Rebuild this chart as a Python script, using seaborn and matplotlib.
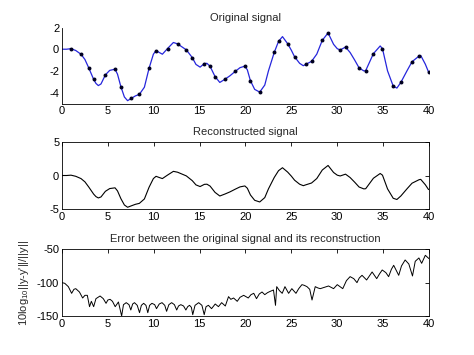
import matplotlib
matplotlib.use("Agg")
import matplotlib.pyplot as plt
import seaborn as sns
import numpy as np

# ---- data ----
signal_x = [0.0, 0.5, 0.98, 1.5, 2.07, 2.5, 2.9, 3.45, 3.7, 3.96, 4.25, 4.73, 5.2, 5.78, 6.05,
            6.42, 6.8, 7.15, 7.55, 8.0, 8.43, 8.98, 9.49, 9.96, 10.25, 10.6, 10.94, 11.5, 12.14,
            12.6, 13.55, 14.2, 14.6, 15.05, 15.52, 15.8, 16.14, 16.68, 17.2, 17.77, 18.3, 18.9,
            19.4, 19.93, 20.2, 20.54, 21.0, 21.55, 22.1, 22.5, 23.13, 23.6, 24.03, 24.6, 25.0,
            25.35, 25.9, 26.3, 26.6, 27.2, 27.77, 28.37, 29.0, 29.6, 30.0, 30.32, 30.9, 31.4,
            31.9, 32.38, 32.9, 33.1, 33.3, 33.94, 34.68, 34.93, 35.48, 36.1, 36.5, 36.93, 37.6,
            38.15, 38.93, 39.1, 39.6, 39.95]
signal_y = [0.0, 0.0, 0.05, -0.12, -0.46, -0.95, -1.69, -2.78, -3.15, -3.35, -3.2, -2.36, -1.95,
            -1.84, -2.3, -3.46, -4.4, -4.74, -4.53, -4.3, -4.16, -3.5, -1.75, -0.46, -0.12, -0.3,
            -0.46, 0.06, 0.62, 0.49, -0.06, -0.77, -1.4, -1.65, -1.32, -1.3, -1.58, -2.52, -3.06,
            -2.76, -2.45, -2.03, -1.7, -1.56, -1.9, -2.91, -3.7, -3.95, -3.3, -2.0, -0.3, 0.72,
            1.16, 0.5, -0.1, -0.7, -1.3, -1.52, -1.38, -1.12, -0.45, 0.82, 1.5, 0.45, 0.05, -0.07,
            0.2, -0.3, -1.0, -1.72, -2.0, -1.97, -1.6, -0.41, 0.3, 0.05, -1.99, -3.4, -3.58,
            -3.06, -1.99, -1.15, -0.62, -0.58, -1.38, -2.1]

sample_x = [0.98, 2.07, 2.9, 3.45, 4.73, 5.78, 6.42, 7.55, 8.43, 9.49, 10.25, 11.5, 12.6, 13.55,
            14.2, 15.52, 16.14, 16.68, 17.77, 18.9, 19.93, 20.54, 21.55, 23.13, 23.6, 24.6, 25.35,
            26.6, 27.2, 28.37, 29.0, 30.32, 30.9, 32.38, 33.1, 33.94, 34.93, 36.1, 36.93, 38.15,
            38.93, 39.95]
sample_y = [0.05, -0.46, -1.69, -2.78, -2.36, -1.84, -3.46, -4.53, -4.16, -1.75, -0.12, 0.06,
            0.49, -0.06, -0.77, -1.32, -1.58, -2.52, -2.76, -2.03, -1.56, -2.91, -3.95, -0.3, 0.72,
            0.5, -0.7, -1.38, -1.12, 0.82, 1.5, -0.07, 0.2, -1.72, -1.97, -0.41, 0.05, -3.4, -3.06,
            -1.15, -0.62, -2.1]

recon_x = signal_x
recon_y = signal_y

error_x = [0.0, 0.3, 0.69, 1.05, 1.3, 1.5, 1.9, 2.25, 2.5, 2.76, 3.0, 3.2, 3.45, 3.7, 4.15, 4.5,
           4.8, 5.0, 5.24, 5.5, 5.8, 6.15, 6.5, 6.7, 7.0, 7.3, 7.5, 7.7, 7.9, 8.2, 8.45, 8.65, 8.9,
           9.15, 9.35, 9.55, 9.8, 10.1, 10.3, 10.6, 10.9, 11.2, 11.4, 11.65, 11.95, 12.25, 12.5,
           12.7, 12.95, 13.25, 13.5, 13.7, 13.9, 14.1, 14.25, 14.5, 14.9, 15.25, 15.5, 15.7,
           15.96, 16.3, 16.7, 17.05, 17.4, 17.8, 18.15, 18.4, 18.7, 19.1, 19.4, 19.8, 20.3, 20.6,
           20.9, 21.2, 21.5, 21.8, 22.1, 22.4, 22.7, 23.05, 23.27, 23.4, 23.7, 24.0, 24.3, 24.7,
           25.05, 25.5, 25.8, 26.15, 26.4, 26.7, 27.0, 27.25, 27.6, 27.9, 28.15, 28.6, 29.05,
           29.6, 30.0, 30.6, 31.0, 31.4, 31.8, 32.15, 32.4, 32.7, 33.2, 33.5, 33.8, 34.3, 34.6,
           34.9, 35.3, 35.6, 35.9, 36.15, 36.7, 37.0, 37.4, 37.8, 38.2, 38.5, 38.9, 39.2, 39.6,
           40.0]
error_y = [-100, -101, -106, -116, -110, -109, -114, -123, -119, -119, -136, -128, -136, -124,
           -120, -124, -131, -126, -125, -128, -136, -129, -150, -133, -130, -133, -141, -132,
           -130, -134, -145, -134, -131, -134, -145, -134, -131, -133, -139, -132, -130, -134,
           -143, -133, -130, -133, -141, -135, -133, -135, -141, -136, -134, -137, -148, -134,
           -130, -134, -148, -136, -134, -139, -132, -136, -130, -135, -121, -125, -123, -128,
           -122, -119, -123, -118, -116, -124, -117, -114, -118, -115, -113, -111, -134, -106,
           -112, -116, -106, -116, -109, -116, -109, -103, -104, -106, -110, -126, -106, -108,
           -109, -107, -105, -109, -103, -109, -97, -91, -94, -100, -93, -89, -96, -90, -84, -94,
           -87, -81, -85, -91, -80, -74, -89, -75, -66, -72, -90, -68, -63, -71, -59, -64]

top_title = "Original signal"
mid_title = "Reconstructed signal"
bot_title = "Error between the original signal and its reconstruction"
bot_ylabel = "10log$_{10}$||y-y'||/||y||"

x_ticks = [0, 5, 10, 15, 20, 25, 30, 35, 40]
top_yticks = [-4, -2, 0, 2]
mid_yticks = [-5, 0, 5]
bot_yticks = [-150, -100, -50]

# ---- figure ----
sns.set_style("white")
plt.rcParams["font.family"] = ["Liberation Sans", "DejaVu Sans"]
plt.rcParams["mathtext.fontset"] = "custom"
plt.rcParams["mathtext.rm"] = "Liberation Sans"
plt.rcParams["mathtext.it"] = "Liberation Sans"
plt.rcParams["axes.unicode_minus"] = False

W, H = 474, 355
fig = plt.figure(figsize=(W / 100, H / 100), dpi=100)
fig.patch.set_facecolor("white")

def frac(left, top, right, bottom):
    return [left / W, 1 - bottom / H, (right - left) / W, (bottom - top) / H]

ax1 = fig.add_axes(frac(62, 27.5, 429, 103.5))
ax2 = fig.add_axes(frac(62, 142, 429, 209))
ax3 = fig.add_axes(frac(62, 249.3, 429, 316))

sns.lineplot(x=signal_x, y=signal_y, ax=ax1, color="#2626dc", linewidth=0.9, estimator=None)
sns.scatterplot(x=sample_x, y=sample_y, ax=ax1, color="#000020", s=8, linewidth=0, zorder=3)
sns.lineplot(x=recon_x, y=recon_y, ax=ax2, color="black", linewidth=0.8, estimator=None)
sns.lineplot(x=error_x, y=error_y, ax=ax3, color="black", linewidth=0.7, estimator=None)

ax1.set_ylim(-5, 2)
ax2.set_ylim(-5, 5)
ax3.set_ylim(-150, -50)

for ax, yt, title in [(ax1, top_yticks, top_title), (ax2, mid_yticks, mid_title),
                      (ax3, bot_yticks, bot_title)]:
    ax.set_xlim(0, 40)
    ax.set_xticks(x_ticks)
    ax.set_yticks(yt)
    ax.set_title(title, fontsize=8, pad=5)
    ax.tick_params(direction="in", length=3, width=0.6, labelsize=8, pad=2,
                   top=(ax is not ax1), right=(ax is not ax1), colors="black")
    for s in ax.spines.values():
        s.set_linewidth(0.6)
        s.set_color("black")
    ax.set_facecolor("white")

ax1.spines["top"].set_visible(False)
ax1.spines["right"].set_visible(False)

ax3.set_ylabel(bot_ylabel, fontsize=8, labelpad=4)

fig.savefig("out.png", dpi=100, facecolor="white")
